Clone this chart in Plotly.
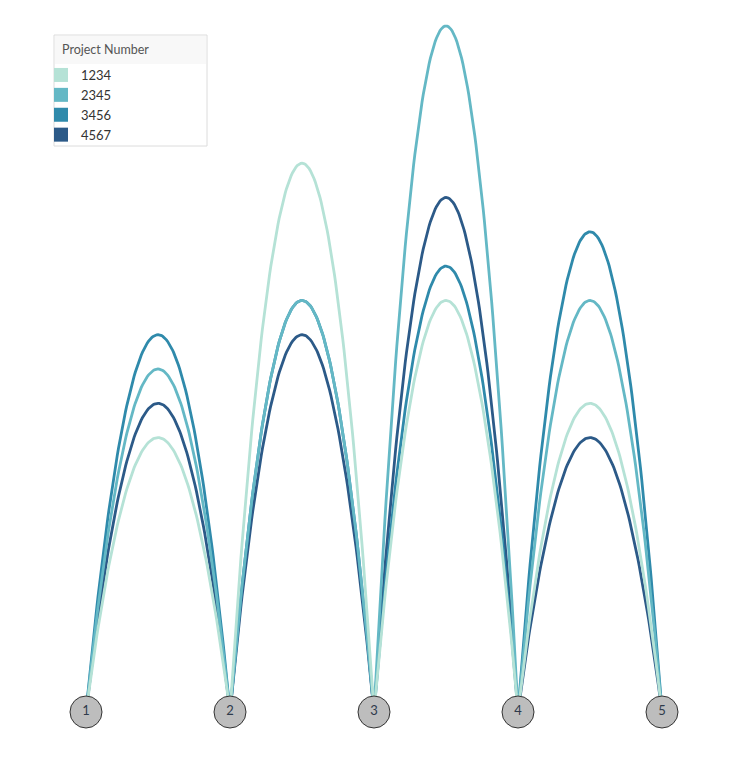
import numpy as np
import plotly.graph_objects as go

# ---- data ----
nodes = [1, 2, 3, 4, 5]
projects = ["1234", "2345", "3456", "4567"]
# arc heights for each link (node i -> node i+1)
links_from = [1, 2, 3, 4]
links_to = [2, 3, 4, 5]
values_1234 = [8, 16, 12, 9]
values_2345 = [10, 12, 20, 12]
values_3456 = [11, 12, 13, 14]
values_4567 = [9, 11, 15, 8]
colors = {"1234": "#b5e2d6", "2345": "#64b8c5", "3456": "#2f8aab", "4567": "#2c5a88"}

series = {"1234": values_1234, "2345": values_2345, "3456": values_3456, "4567": values_4567}

# page has an 8px body margin; compensate so the picture lines up with the window
OFF = 8
W, H = 746 - OFF, 761 - OFF


def px(xp):
    return (xp - OFF) / W


def py(yp):
    return 1 - (yp - OFF) / H


fig = go.Figure()

t = np.linspace(0, 1, 121)
draw_order = ["4567", "3456", "2345", "1234"]
for p in draw_order:
    xs, ys = [], []
    for a, b, h in zip(links_from, links_to, series[p]):
        xs += list(a + (b - a) * t) + [None]
        ys += list(4 * h * t * (1 - t)) + [None]
    fig.add_trace(go.Scatter(x=xs, y=ys, mode="lines",
                             line=dict(color=colors[p], width=2.8),
                             showlegend=False, hoverinfo="skip", legendgroup=p))

# legend entries (square swatches)
for p in projects:
    fig.add_trace(go.Scatter(x=[None], y=[None], mode="markers", name=p,
                             marker=dict(symbol="square", size=14, color=colors[p]),
                             legendgroup=p))

# nodes
fig.add_trace(go.Scatter(x=nodes, y=[0] * len(nodes), mode="markers+text",
                         text=[str(n) for n in nodes], textposition="middle center",
                         textfont=dict(size=13, color="#2f3b4c", family="Lato"),
                         marker=dict(size=32, color="#bdbdbd", line=dict(color="#333333", width=1)),
                         showlegend=False, hoverinfo="skip"))

node_x0 = 86 - OFF
base_y = 712 - OFF
unit = 34.3
fig.update_layout(
    width=W, height=H,
    margin=dict(l=0, r=0, t=0, b=0),
    paper_bgcolor="white", plot_bgcolor="white",
    font=dict(family="Lato", size=12, color="#333333"),
    xaxis=dict(range=[1 - node_x0 / 144, 1 + (W - node_x0) / 144], visible=False, fixedrange=True),
    yaxis=dict(range=[-(H - base_y) / unit, base_y / unit], visible=False, fixedrange=True),
    legend=dict(
        x=px(41), y=py(60), xanchor="left", yanchor="top",
        bgcolor="rgba(0,0,0,0)", borderwidth=0,
        itemwidth=30, tracegroupgap=0,
        font=dict(size=13, color="#333333"),
    ),
    annotations=[
        dict(text="Project Number", xref="paper", yref="paper", x=px(60), y=py(50),
             xanchor="left", yanchor="middle", showarrow=False,
             font=dict(size=12.5, color="#555555")),
    ],
    shapes=[
        dict(type="rect", xref="paper", yref="paper", layer="below",
             x0=px(54), x1=px(207), y0=py(146), y1=py(35),
             fillcolor="white", line=dict(color="#dcdcdc", width=1)),
        dict(type="rect", xref="paper", yref="paper", layer="below",
             x0=px(55), x1=px(206), y0=py(64), y1=py(36),
             fillcolor="#f8f8f8", line=dict(width=0)),
    ],
)

fig.write_html("out.html")
